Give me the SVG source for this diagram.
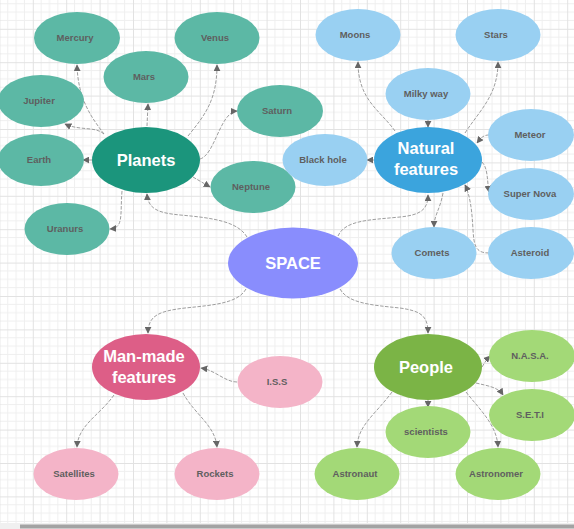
<svg xmlns="http://www.w3.org/2000/svg" width="574" height="529" viewBox="0 0 574 529">
<defs>
<pattern id="grid" patternUnits="userSpaceOnUse" x="-0.6" y="28.8" width="33.4" height="33.4">
<path d="M8.35 0V33.4M16.7 0V33.4M25.05 0V33.4M0 8.35H33.4M0 16.7H33.4M0 25.05H33.4" stroke="#efefef" stroke-width="1" fill="none"/>
<path d="M0.5 0V33.4M0 0.5H33.4" stroke="#e2e2e2" stroke-width="1" fill="none"/>
</pattern>
<marker id="arr" viewBox="0 0 10 10" refX="9" refY="5" markerWidth="7" markerHeight="7" markerUnits="userSpaceOnUse" orient="auto">
<path d="M0 0L10 5L0 10Z" fill="#666"/>
</marker>
</defs>
<style>
.c path{fill:none;stroke:#939393;stroke-width:0.9;stroke-dasharray:3.5 1.5;marker-end:url(#arr)}
.hub{font-family:"Liberation Sans",Arial,sans-serif;font-weight:bold;font-size:16.5px;fill:#fff;text-anchor:middle}
.leaf{font-family:"Liberation Sans",Arial,sans-serif;font-weight:bold;font-size:9.5px;fill:#5f5f5f;text-anchor:middle}
.teal{fill:#5cb8a5}.blue{fill:#99d0f2}.pink{fill:#f4b4c8}.green{fill:#a3d977}
</style>
<rect width="574" height="529" fill="#fff"/>
<rect width="574" height="523" fill="url(#grid)"/>
<rect x="0" y="523" width="574" height="6" fill="#f0f0f0"/>
<rect x="20" y="524.5" width="554" height="4" fill="#a3a3a3"/>

<g class="c" id="connectors">
<path d="M104,134 C92,118 78,100 77,65"/>
<path d="M104,134 C95,126 80,131 65,124"/>
<path d="M147,126 L148,104"/>
<path d="M188,136 C205,115 217,100 217,65"/>
<path d="M200,159 C215,155 220,112 237,111"/>
<path d="M193,177 L210,187"/>
<path d="M92,160 L83,160"/>
<path d="M122,191 C120,215 124,228 110,229"/>
<path d="M247,237 C238,222 215,218 180,215 C160,213 148,210 147,194"/>
<path d="M395,131 C380,110 358,100 358,62"/>
<path d="M465,133 C480,110 498,95 498,62"/>
<path d="M428,119 L428,127"/>
<path d="M489,135 C483,135 481,138 477,143"/>
<path d="M482,162 C488,168 487,180 489,192"/>
<path d="M443,193 C440,210 434,215 434,227"/>
<path d="M489,253 C475,253 474,245 473,230 C472,210 470,195 465,185"/>
<path d="M374,160 L367,160"/>
<path d="M338,236 C345,220 370,220 400,217 C420,215 428,210 428,195"/>
<path d="M246,289 C238,303 215,305 185,308 C160,311 148,315 148,333"/>
<path d="M340,289 C348,303 370,305 400,308 C420,311 428,315 428,333"/>
<path d="M237,382 C225,382 215,370 201,368"/>
<path d="M114,395 C100,415 78,425 77,447"/>
<path d="M183,393 C195,415 215,425 217,447"/>
<path d="M482,367 C485,362 487,359 490,356"/>
<path d="M476,383 C488,386 498,387 503,395"/>
<path d="M428,400 L428,407"/>
<path d="M392,392 C375,415 358,425 357,447"/>
<path d="M466,392 C480,410 497,425 498,447"/>
</g>

<g id="space"><ellipse cx="293" cy="263" rx="65" ry="35.5" fill="#898dfd"/><text class="hub" x="293" y="269">SPACE</text></g>

<g id="planets"><ellipse cx="146" cy="160" rx="54" ry="33" fill="#1b957c"/><text class="hub" x="146" y="166">Planets</text></g>
<g id="mercury"><ellipse class="teal" cx="77" cy="38" rx="43" ry="26"/><text class="leaf" x="75" y="41">Mercury</text></g>
<g id="venus"><ellipse class="teal" cx="217" cy="38" rx="42.5" ry="26"/><text class="leaf" x="215" y="41">Venus</text></g>
<g id="mars"><ellipse class="teal" cx="146" cy="77" rx="42.5" ry="26"/><text class="leaf" x="144" y="80">Mars</text></g>
<g id="jupiter"><ellipse class="teal" cx="41" cy="101" rx="43" ry="26"/><text class="leaf" x="39" y="104">Jupiter</text></g>
<g id="earth"><ellipse class="teal" cx="41" cy="160" rx="43" ry="26"/><text class="leaf" x="39" y="163">Earth</text></g>
<g id="saturn"><ellipse class="teal" cx="280" cy="111" rx="43" ry="26"/><text class="leaf" x="277" y="114">Saturn</text></g>
<g id="neptune"><ellipse class="teal" cx="253" cy="187" rx="42.5" ry="26"/><text class="leaf" x="251" y="190">Neptune</text></g>
<g id="uranurs"><ellipse class="teal" cx="67" cy="229" rx="42.5" ry="26"/><text class="leaf" x="65" y="232">Uranurs</text></g>

<g id="natural"><ellipse cx="428" cy="160" rx="54" ry="33" fill="#3ba4dd"/><text class="hub" x="426" y="154">Natural</text><text class="hub" x="426" y="175">features</text></g>
<g id="moons"><ellipse class="blue" cx="358" cy="35" rx="42.5" ry="26"/><text class="leaf" x="355" y="38">Moons</text></g>
<g id="stars"><ellipse class="blue" cx="498" cy="35" rx="42.5" ry="26"/><text class="leaf" x="496" y="38">Stars</text></g>
<g id="milkyway"><ellipse class="blue" cx="428" cy="94" rx="42.5" ry="26"/><text class="leaf" x="426" y="97">Milky way</text></g>
<g id="meteor"><ellipse class="blue" cx="531" cy="135" rx="43" ry="26"/><text class="leaf" x="530" y="138">Meteor</text></g>
<g id="blackhole"><ellipse class="blue" cx="325" cy="160" rx="42.5" ry="26"/><text class="leaf" x="323" y="163">Black hole</text></g>
<g id="supernova"><ellipse class="blue" cx="531" cy="194" rx="43" ry="26"/><text class="leaf" x="530" y="197">Super Nova</text></g>
<g id="comets"><ellipse class="blue" cx="434" cy="253" rx="42.5" ry="26"/><text class="leaf" x="432" y="256">Comets</text></g>
<g id="asteroid"><ellipse class="blue" cx="531" cy="253" rx="43" ry="26"/><text class="leaf" x="530" y="256">Asteroid</text></g>

<g id="manmade"><ellipse cx="146" cy="367" rx="54" ry="33" fill="#dd5e87"/><text class="hub" x="144" y="362">Man-made</text><text class="hub" x="144" y="383">features</text></g>
<g id="iss"><ellipse class="pink" cx="280" cy="382" rx="42.5" ry="26"/><text class="leaf" x="277" y="385">I.S.S</text></g>
<g id="satellites"><ellipse class="pink" cx="76" cy="474" rx="42.5" ry="26"/><text class="leaf" x="74" y="477">Satellites</text></g>
<g id="rockets"><ellipse class="pink" cx="217" cy="474" rx="42.5" ry="26"/><text class="leaf" x="215" y="477">Rockets</text></g>

<g id="people"><ellipse cx="428" cy="367" rx="54" ry="33" fill="#7bb446"/><text class="hub" x="426" y="373">People</text></g>
<g id="nasa"><ellipse class="green" cx="532" cy="356" rx="43" ry="26"/><text class="leaf" x="530" y="359">N.A.S.A.</text></g>
<g id="seti"><ellipse class="green" cx="532" cy="415" rx="43" ry="26"/><text class="leaf" x="530" y="418">S.E.T.I</text></g>
<g id="scientists"><ellipse class="green" cx="428" cy="432" rx="42.5" ry="26"/><text class="leaf" x="426" y="435">scientists</text></g>
<g id="astronaut"><ellipse class="green" cx="357" cy="474" rx="42.5" ry="26"/><text class="leaf" x="355" y="477">Astronaut</text></g>
<g id="astronomer"><ellipse class="green" cx="498" cy="474" rx="42.5" ry="26"/><text class="leaf" x="496" y="477">Astronomer</text></g>
</svg>
